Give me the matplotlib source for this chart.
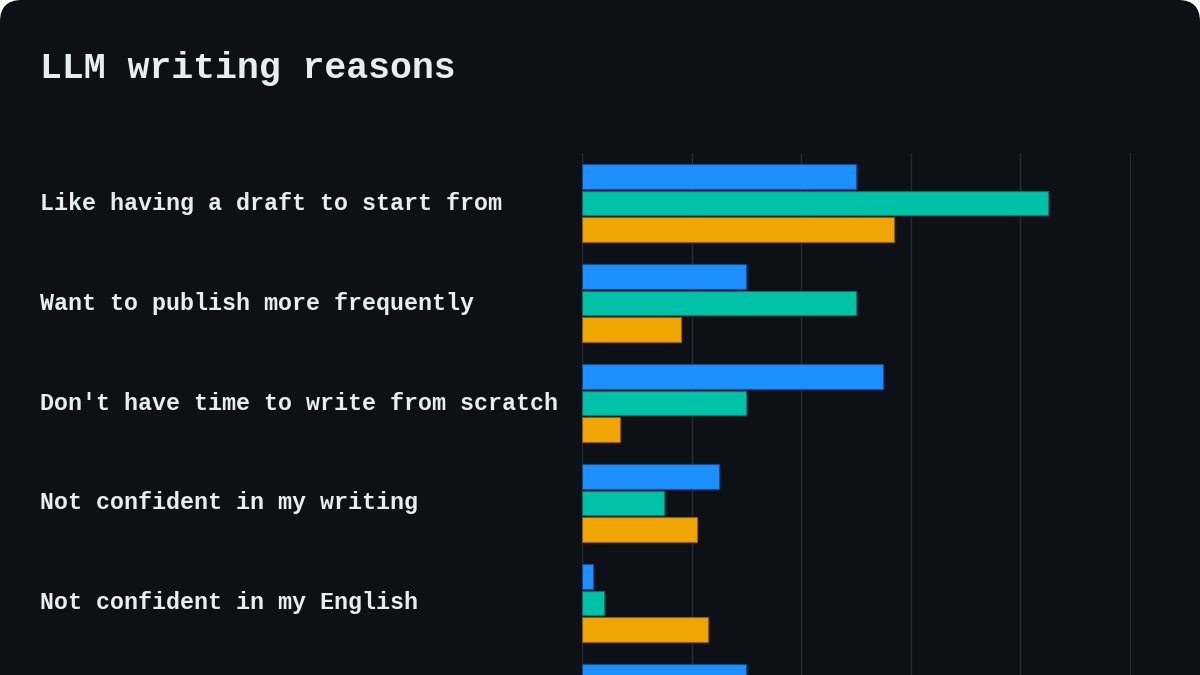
import numpy as np
import matplotlib.pyplot as plt
from matplotlib.patches import FancyBboxPatch
from matplotlib import transforms

# reasons shown in the chart (6th row is cut off at the bottom of the image)
reasons = [
    "Like having a draft to start from",
    "Want to publish more frequently",
    "Don't have time to write from scratch",
    "Not confident in my writing",
    "Not confident in my English",
    "",
]
blue_vals = [50, 30, 55, 25, 2, 30]
teal_vals = [85, 50, 30, 15, 4, np.nan]
orange_vals = [57, 18, 7, 21, 23, np.nan]

bg = "#0d1117"
txt = "#e6edf3"
colors = ["#1e8fff", "#00c2a8", "#f0a500"]
edges = ["#0b4f99", "#007566", "#8a5f00"]

fig = plt.figure(figsize=(12, 6.75), dpi=100)
fig.patch.set_facecolor("white")

# dark card with rounded top corners
card = FancyBboxPatch((0, -0.2), 1, 1.2, boxstyle="round,pad=0,rounding_size=0.018",
                      transform=fig.transFigure, facecolor=bg, edgecolor="none",
                      mutation_aspect=1200 / 675, zorder=-5)
fig.patches.append(card)

fig.text(40 / 1200, 1 - 68 / 675, "LLM writing reasons", fontsize=26.3,
         fontweight="bold", family="Liberation Mono", color=txt, va="center")

ax = fig.add_axes([582 / 1200, 1 - 753 / 675, (1131 - 582) / 1200, 600 / 675])
ax.set_facecolor("none")
ax.set_zorder(2)

y = np.arange(len(reasons))
h = 0.243
off = 0.265
for vals, c, ec, d in zip([blue_vals, teal_vals, orange_vals], colors, edges, [-1, 0, 1]):
    ax.barh(y + d * off, vals, height=h, color=c, edgecolor=ec, linewidth=0.8, zorder=3)

ax.set_xlim(0, 100.2)
ax.set_ylim(len(reasons) - 0.5, -0.5)
ax.set_xticks(np.arange(0, 101, 20))
ax.grid(axis="x", color="#262c35", linewidth=1, zorder=0)
ax.tick_params(left=False, bottom=False, labelleft=False, labelbottom=False)
for s in ax.spines.values():
    s.set_visible(False)

tr = transforms.blended_transform_factory(fig.transFigure, ax.transData)
for yi, lab in zip(y, reasons):
    ax.text(40 / 1200, yi, lab, transform=tr, fontsize=16.8, fontweight="bold",
            family="Liberation Mono", color=txt, va="center", ha="left", clip_on=False)

fig.savefig("out.png", dpi=100, facecolor=fig.get_facecolor())
